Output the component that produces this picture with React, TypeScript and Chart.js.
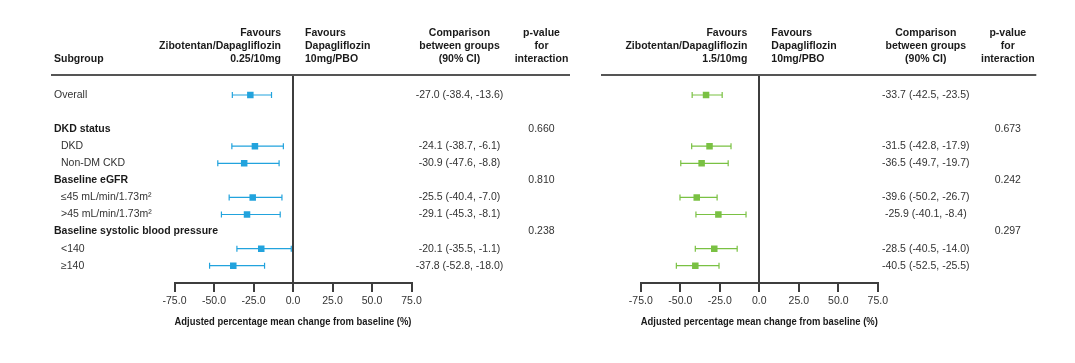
import React, { useEffect, useRef } from "react";
import { Chart, registerables } from "chart.js";

Chart.register(...registerables);

// ---------------- data ----------------
const subgroupLabels = [
  "Overall",
  "",
  "DKD status",
  "DKD",
  "Non-DM CKD",
  "Baseline eGFR",
  "≤45 mL/min/1.73m²",
  ">45 mL/min/1.73m²",
  "Baseline systolic blood pressure",
  "<140",
  "≥140",
];
const subgroupIsHeading = [false, false, true, false, false, true, false, false, true, false, false];
const subgroupIsIndented = [false, false, false, true, true, false, true, true, false, true, true];

const lowDoseEstimate = [-27.0, null, null, -24.1, -30.9, null, -25.5, -29.1, null, -20.1, -37.8];
const lowDoseLower = [-38.4, null, null, -38.7, -47.6, null, -40.4, -45.3, null, -35.5, -52.8];
const lowDoseUpper = [-13.6, null, null, -6.1, -8.8, null, -7.0, -8.1, null, -1.1, -18.0];
const lowDosePValues = ["", "", "0.660", "", "", "0.810", "", "", "0.238", "", ""];

const highDoseEstimate = [-33.7, null, null, -31.5, -36.5, null, -39.6, -25.9, null, -28.5, -40.5];
const highDoseLower = [-42.5, null, null, -42.8, -49.7, null, -50.2, -40.1, null, -40.5, -52.5];
const highDoseUpper = [-23.5, null, null, -17.9, -19.7, null, -26.7, -8.4, null, -14.0, -25.5];
const highDosePValues = ["", "", "0.673", "", "", "0.242", "", "", "0.297", "", ""];

const xTickValues = [-75, -50, -25, 0, 25, 50, 75];
const axisTitle = "Adjusted percentage mean change from baseline (%)";
const subgroupHeader = "Subgroup";
const lowDoseHeader = ["Favours", "Zibotentan/Dapagliflozin", "0.25/10mg"];
const highDoseHeader = ["Favours", "Zibotentan/Dapagliflozin", "1.5/10mg"];
const comparatorHeader = ["Favours", "Dapagliflozin", "10mg/PBO"];
const comparisonHeader = ["Comparison", "between groups", "(90% CI)"];
const pValueHeader = ["p-value", "for", "interaction"];

// ---------------- layout ----------------
const FONT = '"Liberation Sans", Arial, Helvetica, sans-serif';
const CANVAS_H = 363;
const PLOT_LEFT = 174.5;
const PLOT_RIGHT = 411.5;
const PLOT_TOP = 75;
const PLOT_BOTTOM = 283;
const ROW0_Y = 95;
const ROW_STEP = 17.07;
const Y_MIN = -(ROW0_Y - PLOT_TOP) / ROW_STEP;
const Y_MAX = Y_MIN + (PLOT_BOTTOM - PLOT_TOP) / ROW_STEP;
const HEADER_Y = [32.7, 45.7, 58.7];
const AXIS_COLOR = "#3d3d3d";

type PanelProps = {
  canvasLeft: number;
  canvasWidth: number;
  shift: number;
  color: string;
  estimate: (number | null)[];
  lower: (number | null)[];
  upper: (number | null)[];
  pValues: string[];
  doseHeader: string[];
  showSubgroups: boolean;
};

const fmt = (v: number) => v.toFixed(1);

function Panel(props: PanelProps) {
  const ref = useRef<HTMLCanvasElement>(null);
  useEffect(() => {
    const { canvasLeft, canvasWidth, shift, color, estimate, lower, upper, pValues, doseHeader, showSubgroups } = props;
    const cx = (x: number) => x + shift - canvasLeft;

    const whisker: any[] = [];
    const caps: any[] = [];
    const points: any[] = [];
    estimate.forEach((e, i) => {
      if (e === null) return;
      whisker.push({ x: lower[i], y: i }, { x: upper[i], y: i }, { x: null, y: null });
      caps.push({ x: lower[i], y: i }, { x: upper[i], y: i });
      points.push({ x: e, y: i });
    });

    const tablePlugin = {
      id: "forestTable",
      afterDraw(chart: any) {
        const ctx = chart.ctx as CanvasRenderingContext2D;
        const ys = chart.scales.y;
        ctx.save();
        // header rule
        ctx.strokeStyle = "#555";
        ctx.lineWidth = 2;
        ctx.beginPath();
        ctx.moveTo(cx(showSubgroups ? 51 : 134.7), PLOT_TOP);
        ctx.lineTo(cx(570), PLOT_TOP);
        ctx.stroke();

        const bold = `bold 10.5px ${FONT}`;
        const regular = `10.5px ${FONT}`;
        ctx.textBaseline = "middle";
        ctx.fillStyle = "#1a1a1a";
        ctx.font = bold;
        if (showSubgroups) {
          ctx.textAlign = "left";
          ctx.fillText(subgroupHeader, cx(54), HEADER_Y[2]);
        }
        ctx.textAlign = "right";
        doseHeader.forEach((t, k) => ctx.fillText(t, cx(281), HEADER_Y[k]));
        ctx.textAlign = "left";
        comparatorHeader.forEach((t, k) => ctx.fillText(t, cx(305), HEADER_Y[k]));
        ctx.textAlign = "center";
        comparisonHeader.forEach((t, k) => ctx.fillText(t, cx(459.5), HEADER_Y[k]));
        pValueHeader.forEach((t, k) => ctx.fillText(t, cx(541.5), HEADER_Y[k]));

        subgroupLabels.forEach((label, i) => {
          const y = ys.getPixelForValue(i);
          if (showSubgroups && label) {
            ctx.textAlign = "left";
            ctx.font = subgroupIsHeading[i] ? bold : regular;
            ctx.fillStyle = subgroupIsHeading[i] ? "#1a1a1a" : "#333";
            ctx.fillText(label, cx(subgroupIsIndented[i] ? 61 : 54), y);
          }
          ctx.font = regular;
          ctx.fillStyle = "#333";
          ctx.textAlign = "center";
          const e = estimate[i];
          if (e !== null) {
            ctx.fillText(`${fmt(e)} (${fmt(lower[i] as number)}, ${fmt(upper[i] as number)})`, cx(459.5), y);
          }
          if (pValues[i]) ctx.fillText(pValues[i], cx(541.5), y);
        });
        ctx.restore();
      },
    };

    const chart = new Chart(ref.current as HTMLCanvasElement, {
      type: "scatter",
      data: {
        datasets: [
          {
            data: whisker,
            showLine: true,
            spanGaps: false,
            borderColor: color,
            borderWidth: 1.2,
            pointRadius: 0,
            pointHoverRadius: 0,
          },
          {
            data: caps,
            showLine: false,
            pointStyle: "line",
            rotation: 90,
            pointRadius: 3,
            borderColor: color,
            borderWidth: 1.2,
          },
          {
            data: points,
            showLine: false,
            pointStyle: "rect",
            pointRadius: 4.6,
            backgroundColor: color,
            borderColor: color,
            borderWidth: 0,
          },
        ] as any,
      },
      options: {
        responsive: false,
        animation: false,
        devicePixelRatio: 1,
        events: [],
        layout: {
          padding: {
            left: cx(PLOT_LEFT),
            right: canvasWidth - cx(PLOT_RIGHT),
            top: PLOT_TOP,
            bottom: 0,
          },
        },
        plugins: {
          legend: { display: false },
          tooltip: { enabled: false },
          title: { display: false },
        },
        scales: {
          x: {
            type: "linear",
            min: xTickValues[0],
            max: xTickValues[xTickValues.length - 1],
            afterBuildTicks: (s: any) => {
              s.ticks = xTickValues.map((v) => ({ value: v }));
            },
            afterFit: (s: any) => {
              s.height = CANVAS_H - PLOT_BOTTOM;
            },
            ticks: {
              callback: (v: any) => Number(v).toFixed(1),
              font: { family: FONT, size: 10.5 },
              color: "#333",
              padding: 3,
              maxRotation: 0,
              autoSkip: false,
            },
            grid: {
              drawOnChartArea: true,
              color: (c: any) => (c.tick && c.tick.value === 0 ? AXIS_COLOR : "rgba(0,0,0,0)"),
              lineWidth: 2,
              drawTicks: true,
              tickLength: 9,
              tickColor: AXIS_COLOR,
              tickWidth: 2,
            },
            border: { display: true, color: AXIS_COLOR, width: 2 },
            title: {
              display: true,
              text: axisTitle,
              font: { family: FONT, size: 10.5, weight: "bold" },
              color: "#1a1a1a",
              padding: { top: 0, bottom: 35 },
            },
          },
          y: {
            type: "linear",
            display: false,
            reverse: true,
            min: Y_MIN,
            max: Y_MAX,
          },
        },
      } as any,
      plugins: [tablePlugin],
    });
    return () => chart.destroy();
  }, []);
  return (
    <canvas
      ref={ref}
      width={props.canvasWidth}
      height={CANVAS_H}
      style={{ position: "absolute", left: props.canvasLeft, top: 0, width: props.canvasWidth, height: CANVAS_H }}
    />
  );
}

export default function App() {
  return (
    <div style={{ position: "absolute", left: 0, top: 0, width: 1075, height: 363, background: "#fff", overflow: "hidden" }}>
      <Panel
        canvasLeft={0}
        canvasWidth={580}
        shift={0}
        color="#22a3dd"
        estimate={lowDoseEstimate}
        lower={lowDoseLower}
        upper={lowDoseUpper}
        pValues={lowDosePValues}
        doseHeader={lowDoseHeader}
        showSubgroups={true}
      />
      <Panel
        canvasLeft={580}
        canvasWidth={495}
        shift={466.3}
        color="#7ac143"
        estimate={highDoseEstimate}
        lower={highDoseLower}
        upper={highDoseUpper}
        pValues={highDosePValues}
        doseHeader={highDoseHeader}
        showSubgroups={false}
      />
    </div>
  );
}
